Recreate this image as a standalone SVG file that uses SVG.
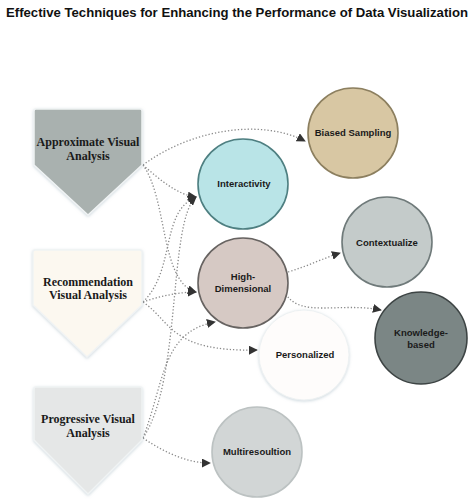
<svg xmlns="http://www.w3.org/2000/svg" width="474" height="502" viewBox="0 0 474 502">
<defs>
<marker id="arr" viewBox="0 0 10 10" refX="9" refY="5" markerWidth="9" markerHeight="9" markerUnits="userSpaceOnUse" orient="auto">
<path d="M0,0 L10,5 L0,10 z" fill="#333"/>
</marker>
<filter id="sh" x="-20%" y="-20%" width="140%" height="140%">
<feDropShadow dx="0" dy="1" stdDeviation="1.5" flood-color="#9fb4bf" flood-opacity="0.5"/>
</filter>
</defs>
<style>
.title{font-family:"Liberation Sans",Arial,sans-serif;font-weight:bold;font-size:13px;fill:#111}
.pt{font-family:"Liberation Serif","Times New Roman",serif;font-weight:bold;font-size:12px;fill:#1a1a1a;text-anchor:middle}
.ct{font-family:"Liberation Sans",Arial,sans-serif;font-weight:bold;font-size:9.5px;fill:#1a1a1a;text-anchor:middle}
.pent{stroke:#f0f3f4;stroke-width:1.5;filter:url(#sh)}
.circ{stroke-width:1.6}
.conn{fill:none;stroke:#8a8a8a;stroke-width:1.3;stroke-dasharray:1.3 2;marker-end:url(#arr)}
</style>
<rect width="474" height="502" fill="#ffffff"/>
<text class="title" x="6" y="17" textLength="462" lengthAdjust="spacingAndGlyphs">Effective Techniques for Enhancing the Performance of Data Visualization</text>

<g id="connectors">
<path class="conn" d="M143,165 C190,130 260,118 305,141"/>
<path class="conn" d="M143,165 C160,180 178,195 196,197"/>
<path class="conn" d="M143,165 C168,200 160,282 196,292"/>
<path class="conn" d="M143,302 C160,296 180,292 196,292"/>
<path class="conn" d="M143,302 C176,270 160,212 196,197"/>
<path class="conn" d="M143,302 C172,322 170,352 257,350"/>
<path class="conn" d="M143,438 C182,380 168,222 196,197"/>
<path class="conn" d="M143,438 C165,380 162,332 215,322"/>
<path class="conn" d="M143,438 C168,455 190,463 210,463"/>
<path class="conn" d="M288,272 C308,266 324,258 340,253"/>
<path class="conn" d="M286,294 C300,318 340,302 381,310"/>
</g>

<g id="approximate">
<path class="pent" d="M36,109 L140,109 Q142,109 142,111 L142,165 L88,215 L34,165 L34,111 Q34,109 36,109 Z" fill="#a9b1af"/>
<text class="pt" x="88" y="146">Approximate Visual</text>
<text class="pt" x="88" y="160">Analysis</text>
</g>

<g id="recommendation">
<path class="pent" d="M35,250 L140,250 Q142,250 142,252 L142,305 L87,357 L33,305 L33,252 Q33,250 35,250 Z" fill="#fcf8f0"/>
<text class="pt" x="88" y="286">Recommendation</text>
<text class="pt" x="88" y="299">Visual Analysis</text>
</g>

<g id="progressive">
<path class="pent" d="M36,387 L140,387 Q142,387 142,389 L142,440 L88,494 L34,440 L34,389 Q34,387 36,387 Z" fill="#e5e7e7"/>
<text class="pt" x="88" y="423">Progressive Visual</text>
<text class="pt" x="88" y="437">Analysis</text>
</g>

<g id="biased-sampling">
<circle class="circ" cx="353" cy="133" r="45" fill="#d8c7a3" stroke="#8c7f5f"/>
<text class="ct" x="353" y="136">Biased Sampling</text>
</g>

<g id="interactivity">
<circle class="circ" cx="243" cy="184" r="45" fill="#b9e4e7" stroke="#4e7f81"/>
<text class="ct" x="244" y="187">Interactivity</text>
</g>

<g id="contextualize">
<circle class="circ" cx="387" cy="242" r="45" fill="#c4cbca" stroke="#6f7a7a"/>
<text class="ct" x="387" y="246">Contextualize</text>
</g>

<g id="high-dimensional">
<circle class="circ" cx="243" cy="283" r="45" fill="#d6c9c4" stroke="#676361"/>
<text class="ct" x="243" y="280">High-</text>
<text class="ct" x="243" y="292">Dimensional</text>
</g>

<g id="knowledge-based">
<circle class="circ" cx="421" cy="338" r="46" fill="#7b8685" stroke="#3d4444"/>
<text class="ct" x="421" y="336">Knowledge-</text>
<text class="ct" x="421" y="348">based</text>
</g>

<g id="personalized">
<circle cx="304" cy="355" r="45" fill="#fefcfb" stroke="#edf1f2" stroke-width="1" filter="url(#sh)"/>
<text class="ct" x="305" y="358">Personalized</text>
</g>

<g id="multiresoultion">
<circle class="circ" cx="257" cy="452" r="45" fill="#d2d6d6" stroke="#bcc2c2"/>
<text class="ct" x="257" y="455">Multiresoultion</text>
</g>
</svg>
